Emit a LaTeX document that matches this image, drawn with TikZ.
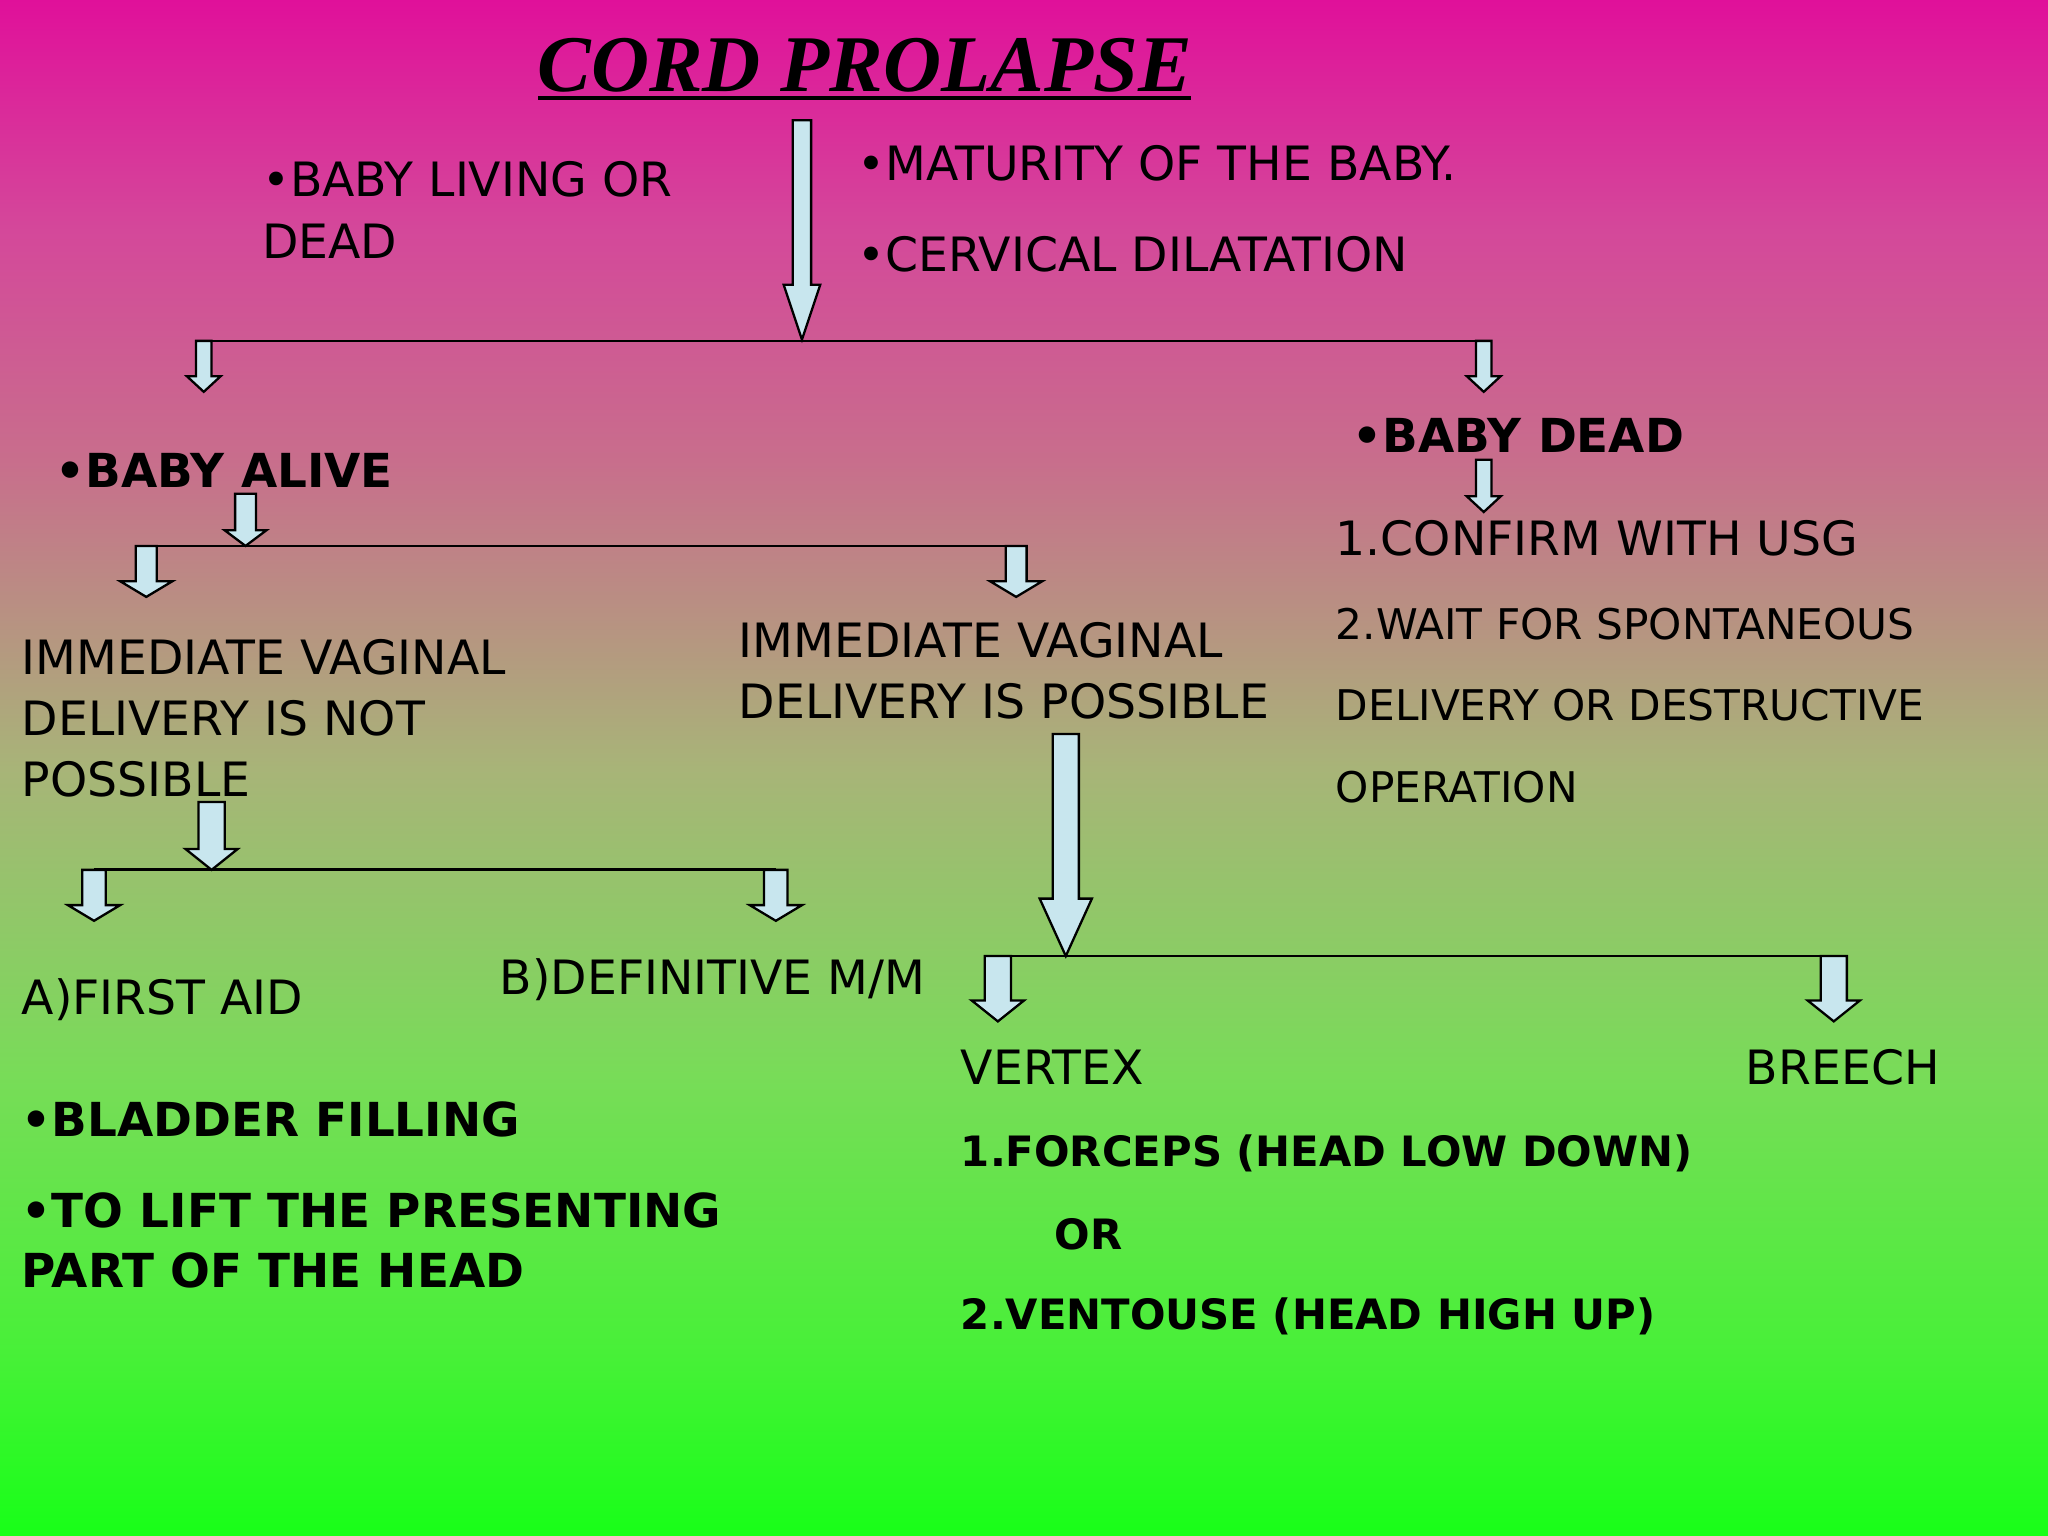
\documentclass[tikz,border=0pt]{standalone}
\usepackage{fontspec}
\setmainfont{DejaVu Sans}
\newfontfamily\titlefont{Liberation Serif}
\definecolor{c0}{HTML}{18FF18}
\definecolor{c1}{HTML}{48F038}
\definecolor{c2}{HTML}{78DC58}
\definecolor{c3}{HTML}{A8B478}
\definecolor{c4}{HTML}{C86E8C}
\definecolor{c5}{HTML}{D4489A}
\definecolor{c6}{HTML}{E0109A}
\definecolor{arrowblue}{HTML}{C8E6EE}
\pgfdeclareverticalshading{bgshade}{100bp}{color(0bp)=(c0); color(25bp)=(c0); color(31bp)=(c1); color(40bp)=(c2); color(50bp)=(c3); color(60bp)=(c4); color(67.5bp)=(c5); color(75bp)=(c6); color(100bp)=(c6)}
\tikzset{arrowfill/.style={fill=arrowblue,draw=black,line width=0.5pt},
  txt/.style={anchor=west,inner sep=0pt,font=\fontsize{10.3}{12}\selectfont},
  btxt/.style={txt,font=\fontsize{10.2}{12}\selectfont\bfseries},
  sbtxt/.style={txt,font=\fontsize{9.1}{11}\selectfont\bfseries},
  stxt/.style={anchor=west,inner sep=0pt,font=\fontsize{9.2}{11}\selectfont},
  conn/.style={draw=black,line width=0.6pt}}
\newcommand\barrow[6]{\filldraw[arrowfill] (#1-#4,#2) -- (#1+#4,#2) -- (#1+#4,#3-#6) -- (#1+#5,#3-#6) -- (#1,#3) -- (#1-#5,#3-#6) -- (#1-#4,#3-#6) -- cycle;}
\begin{document}
\begin{tikzpicture}[x=0.01cm,y=-0.01cm]
\useasboundingbox (0,0) rectangle (1568,1176);
\shade[shading=bgshade] (0,0) rectangle (1568,1176);
% title
\node[inner sep=0pt,font=\titlefont\fontsize{17.5}{20}\selectfont\bfseries\itshape] (title) at (662,50) {CORD PROLAPSE};
\draw[line width=1pt] (412,75) -- (912,75);
% connectors
\draw[conn] (156,261) coordinate (l1a) -- (1136,261) coordinate (l1b);
\draw[conn] (112,418) -- (778,418);
\draw[conn] (72,666) -- (594,666);
\draw[conn] (764,732) -- (1404,732);
% arrows
\barrow{614}{92}{260}{7}{14}{42}
\barrow{156}{261}{300}{6}{13}{12}
\barrow{1136}{261}{300}{6}{13}{12}
\barrow{1136}{352}{392}{6}{13}{12}
\barrow{188}{378}{418}{8}{16}{12}
\barrow{112}{418}{457}{8}{20}{12}
\barrow{778}{418}{457}{8}{20}{12}
\barrow{162}{614}{666}{10}{20}{16}
\barrow{72}{666}{705}{9}{20}{12}
\barrow{594}{666}{705}{9}{20}{12}
\barrow{816}{562}{732}{10}{20}{44}
\barrow{764}{732}{782}{10}{20}{16}
\barrow{1404}{732}{782}{10}{20}{16}
% texts
\node[txt] (living1) at (200,137) {•BABY LIVING OR};
\node[txt] (living2) at (200,185) {DEAD};
\node[txt] (mat) at (656,125) {•MATURITY OF THE BABY.};
\node[txt] (cerv) at (656,195) {•CERVICAL DILATATION};
\node[btxt] (alive) at (42,360) {•BABY ALIVE};
\node[btxt] (dead) at (1035,333) {•BABY DEAD};
\node[txt] (d1) at (1022,412) {1.CONFIRM WITH USG};
\node[stxt] (d2) at (1022,478) {2.WAIT FOR SPONTANEOUS};
\node[stxt] (d3) at (1022,540) {DELIVERY OR DESTRUCTIVE};
\node[stxt] (d4) at (1022,603) {OPERATION};
\node[txt] (n1) at (16,503) {IMMEDIATE VAGINAL};
\node[txt] (n2) at (16,550) {DELIVERY IS NOT};
\node[txt] (n3) at (16,597) {POSSIBLE};
\node[txt] (p1) at (565,490) {IMMEDIATE VAGINAL};
\node[txt] (p2) at (565,537) {DELIVERY IS POSSIBLE};
\node[txt] (fa) at (16,765) {A)FIRST AID};
\node[txt] (def) at (382,750) {B)DEFINITIVE M/M};
\node[txt] (vertex) at (735,817) {VERTEX};
\node[txt] (breech) at (1336,817) {BREECH};
\node[btxt] (b1) at (16,857) {•BLADDER FILLING};
\node[btxt] (b2) at (16,927) {•TO LIFT THE PRESENTING};
\node[btxt] (b3) at (16,973) {PART OF THE HEAD};
\node[sbtxt] (f1) at (735,883) {1.FORCEPS (HEAD LOW DOWN)};
\node[sbtxt] (f2) at (807,945) {OR};
\node[sbtxt] (f3) at (735,1008) {2.VENTOUSE (HEAD HIGH UP)};
\end{tikzpicture}
\end{document}
